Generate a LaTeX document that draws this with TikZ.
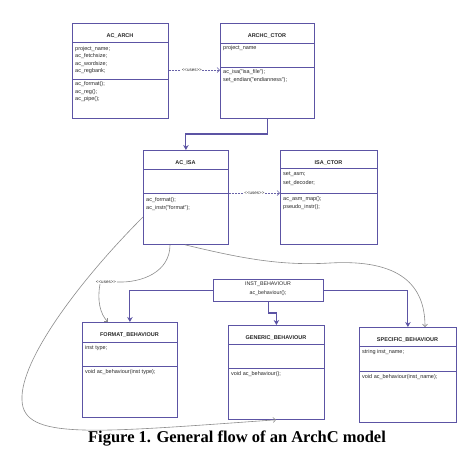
\documentclass[tikz,border=0pt]{standalone}
\usepackage{fontspec}
\setmainfont{Liberation Serif}
\setsansfont{Liberation Sans}
\usetikzlibrary{arrows.meta}
\definecolor{umlblue}{RGB}{92,84,164}
\definecolor{usescol}{RGB}{105,98,168}
\definecolor{flowgray}{RGB}{140,140,140}
\definecolor{txt}{RGB}{40,40,40}
\tikzset{
  boxframe/.style={draw=umlblue, line width=0.8pt, fill=white, inner sep=0pt, anchor=north west},
  divline/.style={draw=umlblue, line width=0.7pt},
  boxtitle/.style={font=\sffamily\bfseries\fontsize{5.5}{6}\selectfont, text=txt, inner sep=0pt},
  member/.style={font=\sffamily\fontsize{5.5}{6}\selectfont, text=txt, inner sep=0pt, anchor=west},
  inherit/.style={draw=umlblue, line width=1.1pt, -{Stealth[length=5pt,width=5.5pt]}},
  usesline/.style={draw=usescol, dash pattern=on 1.8pt off 1.2pt, line width=0.6pt, -{Straight Barb[length=2.5pt,width=5pt]}},
  flow/.style={draw=flowgray, line width=0.6pt},
  flowarrow/.style={flow, -{Straight Barb[length=2.5pt,width=5pt]}},
  useslabel/.style={font=\sffamily\fontsize{4.5}{5}\selectfont, text=txt, fill=white, inner sep=0.6pt},
}
\newcommand{\usestag}{<{}<uses>{}>}
\begin{document}
\begin{tikzpicture}[x=1pt,y=-1pt]
\useasboundingbox (0,0) rectangle (474,469);
\fill[white] (0,0) rectangle (474,469);

% ---------- AC_ARCH
\node[boxframe, minimum width=96pt, minimum height=95pt] (arch) at (72,23) {};
\node[boxtitle] (archT) at (120,36) {AC\_ARCH};
\draw[divline] (arch.west |- 0,42) -- (arch.east |- 0,42);
\draw[divline] (arch.west |- 0,79) -- (arch.east |- 0,79);
\node[member] (archA1) at (75,49) {project\_name;};
\node[member] (archA2) at (75,56.5) {ac\_fetchsize;};
\node[member] (archA3) at (75,64) {ac\_wordsize;};
\node[member] (archA4) at (75,71.5) {ac\_regbank;};
\node[member] (archM1) at (75,84.5) {ac\_format();};
\node[member] (archM2) at (75,92) {ac\_reg();};
\node[member] (archM3) at (75,99.5) {ac\_pipe();};

% ---------- ARCHC_CTOR
\node[boxframe, minimum width=94pt, minimum height=95pt] (ctor) at (220,23) {};
\node[boxtitle] (ctorT) at (267,36) {ARCHC\_CTOR};
\draw[divline] (ctor.west |- 0,43) -- (ctor.east |- 0,43);
\draw[divline] (ctor.west |- 0,67) -- (ctor.east |- 0,67);
\node[member] (ctorA1) at (223,48) {project\_name};
\node[member] (ctorM1) at (223,72.5) {ac\_isa("isa\_file");};
\node[member] (ctorM2) at (223,80.5) {set\_endian("endianness");};

% ---------- AC_ISA
\node[boxframe, minimum width=85pt, minimum height=94pt] (isa) at (143,150) {};
\node[boxtitle] (isaT) at (185.5,163) {AC\_ISA};
\draw[divline] (isa.west |- 0,169) -- (isa.east |- 0,169);
\draw[divline] (isa.west |- 0,193) -- (isa.east |- 0,193);
\node[member] (isaM1) at (146,200) {ac\_format();};
\node[member] (isaM2) at (146,208) {ac\_instr("format");};

% ---------- ISA_CTOR
\node[boxframe, minimum width=97pt, minimum height=94pt] (ictor) at (280,150) {};
\node[boxtitle] (ictorT) at (328.5,162.5) {ISA\_CTOR};
\draw[divline] (ictor.west |- 0,168) -- (ictor.east |- 0,168);
\draw[divline] (ictor.west |- 0,193) -- (ictor.east |- 0,193);
\node[member] (ictorA1) at (283,174.5) {set\_asm;};
\node[member] (ictorA2) at (283,183) {set\_decoder;};
\node[member] (ictorM1) at (283,199) {ac\_asm\_map();};
\node[member] (ictorM2) at (283,207) {pseudo\_instr();};

% ---------- INST_BEHAVIOUR
\node[boxframe, minimum width=110pt, minimum height=22pt] (inst) at (213,279) {};
\node[boxtitle, font=\sffamily\fontsize{5.3}{6}\selectfont] (instT) at (268,284.5) {INST\_BEHAVIOUR};
\node[boxtitle, font=\sffamily\fontsize{5.3}{6}\selectfont] (instM) at (268,293.5) {ac\_behaviour();};

% ---------- FORMAT_BEHAVIOUR
\node[boxframe, minimum width=95pt, minimum height=95pt] (fmt) at (82,322) {};
\node[boxtitle] (fmtT) at (129.5,335) {FORMAT\_BEHAVIOUR};
\draw[divline] (fmt.west |- 0,342) -- (fmt.east |- 0,342);
\draw[divline] (fmt.west |- 0,366) -- (fmt.east |- 0,366);
\node[member] (fmtA1) at (85,348) {inst type;};
\node[member] (fmtM1) at (85,372) {void ac\_behaviour(inst type);};

% ---------- GENERIC_BEHAVIOUR
\node[boxframe, minimum width=96pt, minimum height=94pt] (gen) at (228,325) {};
\node[boxtitle] (genT) at (276,338) {GENERIC\_BEHAVIOUR};
\draw[divline] (gen.west |- 0,344) -- (gen.east |- 0,344);
\draw[divline] (gen.west |- 0,368) -- (gen.east |- 0,368);
\node[member] (genM1) at (231,374) {void ac\_behaviour();};

% ---------- SPECIFIC_BEHAVIOUR
\node[boxframe, minimum width=97pt, minimum height=95pt] (spec) at (359,327) {};
\node[boxtitle] (specT) at (407.5,340) {SPECIFIC\_BEHAVIOUR};
\draw[divline] (spec.west |- 0,346) -- (spec.east |- 0,346);
\draw[divline] (spec.west |- 0,371) -- (spec.east |- 0,371);
\node[member] (specA1) at (362,352) {string inst\_name;};
\node[member] (specM1) at (362,377) {void ac\_behaviour(inst\_name);};

% ---------- uses (dashed)
\draw[usesline] (arch.east |- 0,70) -- node[useslabel, pos=0.45] (uses1) {\usestag} (ctor.west |- 0,70);
\draw[usesline] (isa.east |- 0,193) -- node[useslabel, pos=0.5] (uses2) {\usestag} (ictor.west |- 0,193);

% ---------- inheritance-style connectors
\draw[inherit] (ctor.south) -- (ctor.south |- 0,134) -| (isa.north);
\draw[inherit] (inst.west) -| (fmt.north);
\draw[inherit] (inst.east) -| (spec.north);
\draw[inherit] (inst.south) -- (inst.south |- 0,313) -| (gen.north);

% ---------- gray flow curves
\node[useslabel, fill=none] (uses3) at (106,282) {\usestag};
\draw[flow] (170,0 |- isa.south) .. controls (170,272) and (142,283) .. (uses3.east);
\draw[flowarrow] ([xshift=-6pt]uses3.south) .. controls (97,300) and (100,314) .. (108,0 |- fmt.north);
\draw[flowarrow] (185,0 |- isa.south) .. controls (240,258) and (280,266) .. (330,263)
   .. controls (400,259) and (425,285) .. (425,0 |- spec.north);
\draw[flowarrow] (isa.west |- 0,217) .. controls (80,280) and (20,360) .. (22,400)
   .. controls (23,440) and (90,433) .. (276,0 |- gen.south);

% ---------- caption
\node[font=\bfseries\fontsize{16.5}{18}\selectfont, inner sep=0pt] (cap) at (237,439) {Figure 1. General flow of an ArchC model};
\end{tikzpicture}
\end{document}
